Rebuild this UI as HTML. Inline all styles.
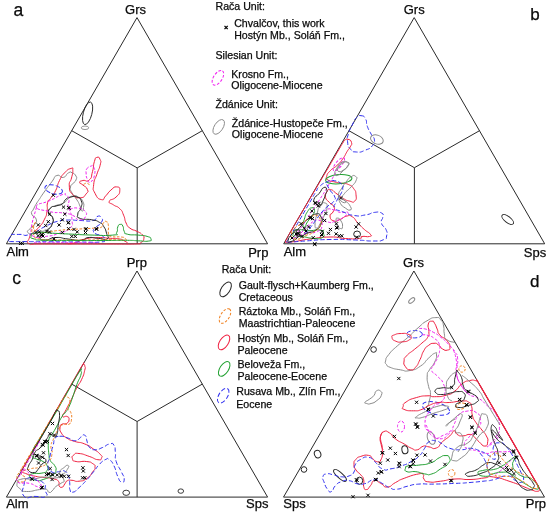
<!DOCTYPE html>
<html><head><meta charset="utf-8"><title>Ternary diagrams</title>
<style>
html,body{margin:0;padding:0;background:#fff;}
svg{display:block;}
text{font-family:"Liberation Sans",sans-serif;fill:#0a0a0a;stroke:#0a0a0a;stroke-width:0.25px;}
</style></head><body>
<svg width="550" height="514" viewBox="0 0 550 514">
<rect width="550" height="514" fill="#fff"/>
<polygon points="6.4,243.8 137.0,17.6 267.6,243.8" fill="none" stroke="#2a2a2a" stroke-width="1" stroke-linejoin="miter"/><path d="M71.7,130.7 L137.2,167.9 L202.3,130.7 M137.2,167.9 L137.2,243.8" fill="none" stroke="#2a2a2a" stroke-width="1"/>
<polygon points="283.7,243.8 414.2,17.6 544.7,243.8" fill="none" stroke="#2a2a2a" stroke-width="1" stroke-linejoin="miter"/><path d="M348.9,130.7 L414.4,167.7 L479.5,130.7 M414.4,167.7 L414.4,243.8" fill="none" stroke="#2a2a2a" stroke-width="1"/>
<polygon points="6.4,497.1 137.0,271.0 267.6,497.1" fill="none" stroke="#2a2a2a" stroke-width="1" stroke-linejoin="miter"/><path d="M71.7,384.1 L137.1,421.5 L202.3,384.1 M137.1,421.5 L137.1,497.1" fill="none" stroke="#2a2a2a" stroke-width="1"/>
<polygon points="283.5,497.1 413.9,271.0 544.5,497.1" fill="none" stroke="#2a2a2a" stroke-width="1" stroke-linejoin="miter"/>
<ellipse cx="217.9" cy="77.8" rx="8.3" ry="4.3" transform="rotate(-57 217.9 77.8)" fill="none" stroke="#f020f0" stroke-width="1.0" stroke-dasharray="2.8 1.7"/>
<ellipse cx="218.7" cy="126.9" rx="8.3" ry="4.3" transform="rotate(-57 218.7 126.9)" fill="none" stroke="#8a8a8a" stroke-width="0.9"/>
<path d="M224.5,25.9l3.2,3.2M224.5,29.1l3.2,-3.2" stroke="#000" stroke-width="1.3" fill="none"/>
<ellipse cx="225.6" cy="289.4" rx="8.3" ry="4.3" transform="rotate(-57 225.6 289.4)" fill="none" stroke="#262626" stroke-width="1.0"/>
<ellipse cx="225" cy="316" rx="8.3" ry="4.3" transform="rotate(-57 225 316)" fill="none" stroke="#f08020" stroke-width="1.0" stroke-dasharray="2.6 1.6"/>
<ellipse cx="224" cy="342.4" rx="8.3" ry="4.3" transform="rotate(-57 224 342.4)" fill="none" stroke="#f02040" stroke-width="1.0"/>
<ellipse cx="224.2" cy="368.9" rx="8.3" ry="4.3" transform="rotate(-57 224.2 368.9)" fill="none" stroke="#20a030" stroke-width="1.0"/>
<ellipse cx="223.2" cy="395.7" rx="8.3" ry="4.3" transform="rotate(-57 223.2 395.7)" fill="none" stroke="#3030f0" stroke-width="1.0" stroke-dasharray="4.4 2.2"/>
<ellipse cx="87.6" cy="113.3" rx="4.3" ry="11.6" transform="rotate(14.6 87.6 113.3)" fill="none" stroke="#262626" stroke-width="0.9"/>
<ellipse cx="85.0" cy="127.8" rx="3.7" ry="1.75" transform="rotate(0 85.0 127.8)" fill="none" stroke="#8a8a8a" stroke-width="0.9"/>
<path d="M68.4,172.9 C65.4,174.4 67.1,176.5 63.3,177.4 C59.5,178.3 60.7,174.0 56.9,175.5 C53.1,177.0 56.0,176.3 51.8,181.8 C47.6,187.3 48.4,186.1 44.2,192.0 C40.0,197.9 41.6,195.9 39.1,199.6 C36.6,203.3 38.6,199.9 36.8,203.0 C35.0,206.1 35.3,205.3 33.6,209.0 C31.9,212.7 30.8,210.7 31.7,214.1 C32.6,217.5 35.3,215.6 36.2,219.2 C37.1,222.8 36.6,221.5 34.3,224.9 C32.0,228.3 31.3,226.9 29.2,229.4 C27.1,231.9 26.8,231.0 27.9,232.5 C29.0,234.0 28.4,234.0 32.4,233.8 C36.4,233.6 34.8,233.6 40.0,232.0 C45.2,230.4 44.0,231.7 48.0,229.0 C52.0,226.3 50.3,227.7 52.0,224.0 C53.7,220.3 54.0,221.7 53.0,218.0 C52.0,214.3 49.7,216.3 49.0,213.0 C48.3,209.7 48.7,210.5 51.0,208.0 C53.3,205.5 51.8,207.2 56.0,205.5 C60.2,203.8 59.5,205.2 63.5,203.0 C67.5,200.8 64.8,201.3 68.0,199.0 C71.2,196.7 69.3,196.5 73.0,196.0 C76.7,195.5 75.7,195.5 79.0,197.5 C82.3,199.5 81.5,198.7 83.0,202.0 C84.5,205.3 83.8,204.5 83.5,207.5 C83.2,210.5 83.2,211.5 82.0,211.0 C80.8,210.5 81.7,209.7 80.0,206.0 C78.3,202.3 79.7,204.3 77.0,200.0 C74.3,195.7 74.2,197.3 72.0,193.0 C69.8,188.7 70.0,190.3 70.5,187.0 C71.0,183.7 71.7,185.5 73.5,183.1 C75.3,180.7 75.2,182.2 76.0,179.9 C76.8,177.6 77.3,178.4 76.0,176.1 C74.7,173.8 74.7,174.0 72.2,172.9 C69.7,171.8 71.4,171.4 68.4,172.9Z" fill="none" stroke="#8a8a8a" stroke-width="1.0"/>
<path d="M29.0,243.6 C25.4,241.7 28.1,241.8 29.2,238.3 C30.3,234.8 29.0,237.0 32.4,233.2 C35.8,229.4 35.4,231.5 39.4,226.8 C43.4,222.1 42.0,224.3 44.5,219.2 C47.0,214.1 46.0,217.0 47.0,211.5 C48.0,206.0 46.4,207.0 47.6,202.6 C48.8,198.2 47.8,202.4 50.5,198.4 C53.2,194.4 52.6,196.7 55.6,190.7 C58.6,184.7 56.5,186.4 59.5,180.5 C62.5,174.6 60.7,176.9 64.5,172.9 C68.3,168.9 68.1,169.3 70.9,168.5 C73.7,167.7 72.6,167.2 72.8,170.4 C73.0,173.6 72.7,172.8 71.5,178.0 C70.3,183.2 68.9,180.5 69.3,186.0 C69.7,191.5 69.0,190.6 72.7,194.5 C76.4,198.4 75.9,197.9 80.4,197.7 C84.9,197.5 83.8,196.6 86.1,193.9 C88.4,191.2 88.5,192.5 87.4,189.5 C86.3,186.5 85.5,187.3 82.9,185.0 C80.3,182.7 79.7,184.0 79.7,182.5 C79.7,181.0 79.7,181.4 82.9,180.5 C86.1,179.6 86.1,182.9 89.3,179.9 C92.5,176.9 90.8,177.7 92.5,171.6 C94.2,165.5 92.9,166.2 94.4,161.5 C95.9,156.8 95.0,158.1 96.9,157.4 C98.8,156.7 99.0,156.9 100.1,159.5 C101.2,162.1 101.2,160.4 100.1,165.3 C99.0,170.2 99.0,167.8 96.9,174.2 C94.8,180.6 94.3,178.0 93.7,184.4 C93.1,190.8 92.4,188.2 95.0,193.3 C97.6,198.4 97.8,198.8 101.4,199.6 C105.0,200.4 102.6,199.0 105.8,195.8 C109.0,192.6 107.3,193.1 110.9,190.1 C114.5,187.1 113.6,186.7 116.6,186.9 C119.6,187.1 120.0,187.3 119.8,190.7 C119.6,194.1 119.5,193.6 116.0,197.1 C112.5,200.6 110.1,198.7 109.3,201.3 C108.5,203.9 110.0,202.4 113.5,204.9 C117.0,207.4 116.4,205.3 119.8,208.7 C123.2,212.1 121.5,210.4 123.6,215.2 C125.7,220.0 124.0,218.7 126.1,223.0 C128.2,227.3 126.3,225.3 129.9,228.1 C133.5,230.9 132.9,229.2 136.9,231.3 C140.9,233.4 139.7,232.2 142.0,234.5 C144.3,236.8 144.3,235.6 143.9,238.3 C143.5,241.0 143.9,240.8 140.7,242.7 C137.5,244.6 144.6,243.6 134.4,244.0 C124.2,244.4 131.5,244.0 110.0,244.0 C88.5,244.0 93.3,244.0 70.0,244.0 C46.7,244.0 53.7,244.1 40.0,244.0 C26.3,243.9 32.6,245.5 29.0,243.6Z" fill="none" stroke="#f02040" stroke-width="1.0"/>
<path d="M128.0,243.4 C126.7,242.5 127.2,242.3 124.2,240.8 C121.2,239.3 123.8,239.7 119.1,238.9 C114.4,238.1 117.2,238.7 110.2,238.3 C103.2,237.9 106.4,237.4 98.2,237.6 C90.0,237.8 93.1,237.2 85.5,238.9 C77.9,240.6 81.1,241.1 75.3,242.7 C69.5,244.3 70.4,243.4 68.0,243.8" fill="none" stroke="#f02040" stroke-width="1.0"/>
<path d="M86.7,169.1 C88.2,166.9 88.2,166.9 90.5,166.3 C92.8,165.7 92.4,164.1 93.7,167.2 C95.0,170.3 95.5,170.6 94.4,175.5 C93.3,180.4 92.8,180.5 90.5,181.8 C88.2,183.1 88.9,182.3 87.4,179.3 C85.9,176.3 86.3,176.3 86.1,172.9 C85.9,169.5 85.2,171.3 86.7,169.1Z" fill="none" stroke="#f020f0" stroke-width="1.0" stroke-dasharray="2.8 1.7"/>
<path d="M83.5,184.4 C84.8,184.0 85.3,182.7 87.4,183.3 C89.5,183.9 89.1,185.3 89.9,186.3" fill="none" stroke="#f08020" stroke-width="1.0" stroke-dasharray="2.6 1.6"/>
<ellipse cx="53.7" cy="189.5" rx="9" ry="4.3" transform="rotate(15 53.7 189.5)" fill="none" stroke="#3030f0" stroke-width="1.0" stroke-dasharray="4.4 2.2"/>
<path d="M11.4,234.7 C12.3,233.7 9.7,234.5 12.6,234.4 C15.5,234.3 14.0,234.5 20.0,234.4 C26.0,234.3 21.9,236.9 30.5,234.2 C39.1,231.5 36.4,230.6 45.7,226.2 C55.0,221.8 50.9,223.2 58.5,221.1 C66.1,219.0 61.4,220.2 68.6,220.0 C75.8,219.8 71.9,220.3 80.0,220.5 C88.1,220.7 87.3,221.8 93.0,220.5 C98.7,219.2 94.3,217.6 97.0,216.6 C99.7,215.6 99.5,215.5 101.0,217.4 C102.5,219.3 103.4,218.9 101.4,222.4 C99.4,225.9 97.6,225.0 95.0,228.0 C92.4,231.0 93.2,229.5 93.5,231.5 C93.8,233.5 93.0,232.5 96.0,234.0 C99.0,235.5 99.8,234.0 102.5,236.0 C105.2,238.0 104.8,238.0 104.0,240.0 C103.2,242.0 108.0,241.3 100.0,242.0 C92.0,242.7 96.7,242.1 80.0,242.0 C63.3,241.9 68.3,241.9 50.0,241.8 C31.7,241.7 37.7,241.7 25.0,241.6 C12.3,241.5 17.3,241.7 12.0,241.6 C6.7,241.5 10.4,241.8 9.2,241.3 C8.0,240.8 8.3,241.3 8.5,240.0 C8.7,238.7 8.8,239.3 9.8,237.5 C10.8,235.7 10.5,235.7 11.4,234.7Z" fill="none" stroke="#3030f0" stroke-width="1.0" stroke-dasharray="4.4 2.2"/>
<path d="M50.8,207.7 C48.3,210.0 48.0,209.7 48.6,213.0 C49.2,216.3 51.3,213.8 52.5,217.6 C53.7,221.4 53.5,220.4 52.1,224.3 C50.7,228.2 51.3,226.2 48.3,229.4 C45.3,232.6 45.8,231.1 43.0,234.0 C40.2,236.9 39.1,236.0 40.0,238.0 C40.9,240.0 40.4,240.2 45.7,240.0 C51.0,239.8 48.5,237.8 55.9,237.5 C63.3,237.2 59.4,238.1 68.0,239.0 C76.6,239.9 74.9,240.7 81.6,240.2 C88.3,239.7 82.5,238.2 88.0,237.6 C93.5,237.0 91.8,237.9 98.2,238.3 C104.6,238.7 104.3,240.6 107.1,238.9 C109.9,237.2 107.6,237.2 106.5,233.2 C105.4,229.2 106.2,230.4 103.9,226.8 C101.6,223.2 103.5,224.7 99.5,222.4 C95.5,220.1 98.2,221.1 91.8,219.8 C85.4,218.5 85.1,220.4 80.4,218.5 C75.7,216.6 77.6,217.7 77.8,214.1 C78.0,210.5 79.8,212.1 81.0,207.7 C82.2,203.3 82.6,204.6 81.3,201.0 C80.0,197.4 80.4,198.3 77.0,197.0 C73.6,195.7 74.7,196.2 71.0,197.0 C67.3,197.8 68.7,197.0 65.8,199.3 C62.9,201.6 65.6,201.7 62.3,203.9 C59.0,206.1 59.8,204.7 56.0,206.0 C52.2,207.3 53.3,205.4 50.8,207.7Z" fill="none" stroke="#262626" stroke-width="1.0"/>
<path d="M62.6,194.5 C57.3,196.2 58.7,196.5 50.0,200.5 C41.3,204.5 36.7,202.8 36.5,206.5 C36.3,210.2 40.7,209.3 49.5,211.5 C58.3,213.7 55.3,211.7 63.0,213.0 C70.7,214.3 67.3,213.1 72.7,215.4 C78.1,217.7 74.8,219.4 79.1,219.8 C83.4,220.2 83.8,219.8 85.5,216.6 C87.2,213.4 87.0,213.2 84.2,210.3 C81.4,207.4 82.1,208.9 77.0,208.0 C71.9,207.1 71.7,210.5 69.0,207.5 C66.3,204.5 69.9,203.0 68.9,199.0 C67.9,195.0 68.1,197.0 66.0,195.5 C63.9,194.0 67.9,192.8 62.6,194.5Z" fill="none" stroke="#f020f0" stroke-width="1.0" stroke-dasharray="2.8 1.7"/>
<path d="M36.5,207.0 C34.7,214.5 32.3,219.7 31.1,229.4 C29.9,239.1 28.4,233.6 33.0,236.0 C37.6,238.4 36.0,237.5 45.0,236.5 C54.0,235.5 51.7,235.8 60.0,233.0 C68.3,230.2 66.0,232.3 70.0,228.0 C74.0,223.7 72.3,226.7 72.0,220.0 C71.7,213.3 70.0,212.0 69.0,208.0" fill="none" stroke="#f020f0" stroke-width="1.0" stroke-dasharray="2.8 1.7"/>
<path d="M34.0,242.6 C39.3,242.5 36.3,242.4 50.0,242.4 C63.7,242.4 59.0,242.5 75.0,242.6 C91.0,242.7 90.3,242.7 98.0,242.8" fill="none" stroke="#f020f0" stroke-width="0.8" stroke-dasharray="2.8 1.7"/>
<path d="M35.5,222.4 C36.0,221.7 33.4,223.9 33.6,226.8 C33.8,229.7 32.2,229.1 36.0,231.0 C39.8,232.9 37.7,232.7 45.0,232.5 C52.3,232.3 48.8,231.5 58.0,230.5 C67.2,229.5 61.4,230.1 72.7,229.4 C84.0,228.7 82.5,228.9 91.8,228.3 C101.1,227.7 96.9,229.3 100.7,227.5 C104.5,225.7 101.4,224.9 103.3,223.0 C105.2,221.1 104.8,220.9 106.5,221.7 C108.2,222.5 107.8,221.7 108.4,225.5 C109.0,229.3 107.6,229.6 108.4,233.2 C109.2,236.8 106.7,235.1 110.9,236.4 C115.1,237.7 116.4,236.4 121.1,237.0 C125.8,237.6 124.1,237.2 124.9,238.3 C125.7,239.4 128.3,239.7 123.6,240.2 C118.9,240.7 122.1,239.8 110.9,239.7 C99.7,239.6 107.0,239.9 90.0,240.0 C73.0,240.1 76.7,240.3 60.0,240.0 C43.3,239.7 48.7,240.7 40.0,239.0 C31.3,237.3 36.7,238.3 34.0,235.0 C31.3,231.7 31.5,233.2 32.0,229.0 C32.5,224.8 35.0,223.1 35.5,222.4Z" fill="none" stroke="#f08020" stroke-width="1.0" stroke-dasharray="2.6 1.6"/>
<path d="M31.1,236.4 C31.9,234.3 28.5,233.7 36.8,232.7 C45.1,231.7 45.3,233.0 55.9,233.4 C66.5,233.8 57.2,233.5 68.6,234.0 C80.0,234.5 75.3,234.6 90.0,235.0 C104.7,235.4 103.8,235.9 112.7,235.1 C121.6,234.3 115.0,235.3 116.7,232.5 C118.4,229.7 116.6,229.5 117.8,226.8 C119.0,224.1 118.7,224.6 120.4,224.4 C122.1,224.2 121.6,223.9 122.9,226.2 C124.2,228.5 122.7,228.6 124.2,231.3 C125.7,234.0 122.7,232.9 127.4,234.2 C132.1,235.5 131.6,234.4 138.2,235.1 C144.8,235.8 142.9,235.1 147.1,236.4 C151.3,237.7 150.5,237.3 150.9,238.9 C151.3,240.5 152.6,240.5 148.4,241.1 C144.2,241.7 145.8,241.1 138.2,240.8 C130.6,240.5 138.2,240.4 125.5,240.3 C112.8,240.2 118.5,240.5 100.0,240.5 C81.5,240.5 88.9,240.5 70.0,240.4 C51.1,240.3 55.1,240.7 43.2,240.2 C31.3,239.7 38.3,240.3 34.3,239.0 C30.3,237.7 30.3,238.5 31.1,236.4Z" fill="none" stroke="#20a030" stroke-width="1.0"/>
<path d="M18.9,241.8l3.2,3.2M18.9,245.0l3.2,-3.2M20.7,241.8l3.2,3.2M20.7,245.0l3.2,-3.2M36.7,223.3l3.2,3.2M36.7,226.5l3.2,-3.2M46.7,220.1l3.2,3.2M46.7,223.3l3.2,-3.2M44.1,223.9l3.2,3.2M44.1,227.1l3.2,-3.2M37.8,230.3l3.2,3.2M37.8,233.5l3.2,-3.2M40.3,233.5l3.2,3.2M40.3,236.7l3.2,-3.2M39.7,232.9l3.2,3.2M39.7,236.1l3.2,-3.2M36.5,234.1l3.2,3.2M36.5,237.3l3.2,-3.2M47.9,212.5l3.2,3.2M47.9,215.7l3.2,-3.2M61.9,205.5l3.2,3.2M61.9,208.7l3.2,-3.2M67.0,206.1l3.2,3.2M67.0,209.3l3.2,-3.2M67.6,206.5l3.2,3.2M67.6,209.7l3.2,-3.2M63.2,212.5l3.2,3.2M63.2,215.7l3.2,-3.2M60.7,218.2l3.2,3.2M60.7,221.4l3.2,-3.2M57.5,223.3l3.2,3.2M57.5,226.5l3.2,-3.2M67.0,220.8l3.2,3.2M67.0,224.0l3.2,-3.2M66.6,221.3l3.2,3.2M66.6,224.5l3.2,-3.2M67.0,227.1l3.2,3.2M67.0,230.3l3.2,-3.2M60.7,230.9l3.2,3.2M60.7,234.1l3.2,-3.2M52.4,237.3l3.2,3.2M52.4,240.5l3.2,-3.2M70.2,234.8l3.2,3.2M70.2,238.0l3.2,-3.2M45.4,229.7l3.2,3.2M45.4,232.9l3.2,-3.2M47.9,230.4l3.2,3.2M47.9,233.6l3.2,-3.2M51.7,193.6l3.2,3.2M51.7,196.8l3.2,-3.2M72.4,227.8l3.2,3.2M72.4,231.0l3.2,-3.2M75.6,230.3l3.2,3.2M75.6,233.5l3.2,-3.2M84.5,227.1l3.2,3.2M84.5,230.3l3.2,-3.2M84.2,227.7l3.2,3.2M84.2,230.9l3.2,-3.2M83.9,230.9l3.2,3.2M83.9,234.1l3.2,-3.2M94.7,227.1l3.2,3.2M94.7,230.3l3.2,-3.2M95.0,227.6l3.2,3.2M95.0,230.8l3.2,-3.2M73.7,234.8l3.2,3.2M73.7,238.0l3.2,-3.2M34.4,230.9l3.2,3.2M34.4,234.1l3.2,-3.2M41.4,234.4l3.2,3.2M41.4,237.6l3.2,-3.2" fill="none" stroke="#000" stroke-width="1.0"/>
<ellipse cx="507.7" cy="219.5" rx="7" ry="3" transform="rotate(38 507.7 219.5)" fill="none" stroke="#262626" stroke-width="1.0"/>
<path d="M361.0,115.7 C364.0,116.1 363.4,115.3 365.5,118.9 C367.6,122.5 365.5,121.4 367.4,126.5 C369.3,131.6 368.9,129.7 371.2,134.2 C373.5,138.7 374.0,136.1 374.4,139.9 C374.8,143.7 375.5,142.2 372.5,145.6 C369.5,149.0 370.8,148.0 365.5,150.1 C360.2,152.2 361.6,152.4 356.5,152.0 C351.4,151.6 353.2,152.2 350.2,148.8 C347.2,145.4 348.2,146.7 347.6,141.8 C347.0,136.9 346.6,140.1 348.3,134.2 C350.0,128.3 350.0,129.5 352.7,124.0 C355.4,118.5 353.7,120.4 356.5,117.6 C359.3,114.8 358.0,115.3 361.0,115.7Z" fill="none" stroke="#3030f0" stroke-width="1.0" stroke-dasharray="4.4 2.2"/>
<ellipse cx="376.9" cy="139.5" rx="6.6" ry="4.4" transform="rotate(20 376.9 139.5)" fill="none" stroke="#8a8a8a" stroke-width="1.0"/>
<path d="M344.3,140.6 C346.1,139.4 345.6,138.7 348.0,139.3 C350.4,139.9 350.8,140.0 351.5,142.5 C352.2,145.0 351.7,143.9 350.2,146.9 C348.7,149.9 349.6,147.4 347.1,151.5 C344.6,155.6 346.0,154.4 342.6,159.1 C339.2,163.8 340.9,161.7 336.9,165.5 C332.9,169.3 333.9,166.9 330.5,170.5 C327.1,174.1 327.5,173.1 326.7,176.3 C325.9,179.5 325.2,178.1 328.0,180.0 C330.8,181.9 330.3,180.9 335.0,182.0 C339.7,183.1 337.5,182.5 342.0,183.3 C346.5,184.1 344.6,182.8 348.4,184.5 C352.2,186.2 351.0,185.0 353.5,188.4 C356.0,191.8 355.6,190.5 356.0,194.7 C356.4,198.9 356.8,199.0 354.7,201.1 C352.6,203.2 353.4,202.0 349.6,201.1 C345.8,200.2 347.5,200.9 343.3,198.5 C339.1,196.1 341.3,197.0 337.0,194.0 C332.7,191.0 333.9,190.2 330.5,189.6 C327.1,189.0 328.4,189.6 326.7,192.2 C325.0,194.8 324.6,193.9 325.5,197.3 C326.4,200.7 326.5,199.2 329.3,202.4 C332.1,205.6 332.8,203.8 334.0,207.0 C335.2,210.2 334.3,209.0 333.0,212.0 C331.7,215.0 329.7,213.0 330.0,216.0 C330.3,219.0 330.6,219.9 334.0,221.0 C337.4,222.1 336.0,221.0 340.2,219.4 C344.4,217.8 342.5,217.1 346.5,216.2 C350.5,215.3 348.5,214.5 352.3,216.8 C356.1,219.1 354.0,219.0 358.0,223.2 C362.0,227.4 360.4,225.9 364.4,229.5 C368.4,233.1 368.4,231.7 370.1,234.0 C371.8,236.3 372.3,235.7 369.5,236.5 C366.7,237.3 365.2,235.8 361.8,236.5 C358.4,237.2 364.8,237.8 359.3,238.5 C353.8,239.2 355.1,239.0 345.3,238.5 C335.5,238.0 341.8,236.8 330.0,237.0 C318.2,237.2 321.7,237.5 310.0,239.0 C298.3,240.5 302.7,240.4 295.0,241.5 C287.3,242.6 290.1,242.3 287.0,242.3 C283.9,242.3 285.7,242.6 285.6,241.5 C285.5,240.4 284.7,242.8 286.7,239.0 C288.6,235.2 286.0,239.7 291.5,230.0 C297.0,220.3 295.3,223.3 303.2,210.0 C311.1,196.7 307.1,203.3 315.0,190.0 C322.9,176.7 319.0,183.3 326.9,170.0 C334.7,156.7 333.3,159.0 338.6,150.0 C343.9,141.0 340.8,146.1 342.8,143.0 C344.7,139.9 342.6,141.8 344.3,140.6Z" fill="none" stroke="#f02040" stroke-width="1.0"/>
<ellipse cx="338.8" cy="179.2" rx="13.2" ry="4.6" transform="rotate(-5 338.8 179.2)" fill="none" stroke="#20a030" stroke-width="1.0"/>
<path d="M311.9,207.8 C314.2,207.4 314.3,207.8 314.5,210.4 C314.7,213.0 314.8,211.7 312.5,215.5 C310.2,219.3 310.0,218.0 307.5,221.8 C305.0,225.6 306.4,225.6 304.9,226.9 C303.4,228.2 303.2,228.1 303.0,225.6 C302.8,223.1 302.8,224.0 304.3,219.3 C305.8,214.6 305.0,215.4 307.5,211.6 C310.0,207.8 309.6,208.2 311.9,207.8Z" fill="none" stroke="#20a030" stroke-width="1.0"/>
<path d="M293.5,233.3 C294.4,230.8 292.6,230.4 297.3,229.5 C302.0,228.6 299.9,230.5 307.5,230.7 C315.1,230.9 314.9,229.2 320.2,230.1 C325.5,231.0 322.8,230.8 323.4,233.3 C324.0,235.8 325.3,236.0 322.1,237.7 C318.9,239.4 320.8,238.8 313.8,238.4 C306.8,238.0 307.5,236.9 301.1,236.5 C294.7,236.1 297.2,238.2 294.7,237.1 C292.2,236.0 292.6,235.8 293.5,233.3Z" fill="none" stroke="#20a030" stroke-width="1.0"/>
<ellipse cx="338.8" cy="164.2" rx="8.2" ry="3" transform="rotate(-50 338.8 164.2)" fill="none" stroke="#f020f0" stroke-width="1.0" stroke-dasharray="2.8 1.7"/>
<path d="M342.5,160.9 C340.3,164.6 340.8,163.6 336.0,172.0 C331.2,180.4 333.3,177.0 328.0,186.0 C322.7,195.0 325.3,190.7 320.0,199.0 C314.7,207.3 317.0,203.3 312.0,211.0 C307.0,218.7 309.7,215.0 305.0,222.0 C300.3,229.0 302.3,226.0 298.0,232.0 C293.7,238.0 294.0,237.3 292.0,240.0" fill="none" stroke="#f020f0" stroke-width="1.0" stroke-dasharray="2.8 1.7"/>
<path d="M333.8,209.8 C338.5,210.6 335.5,211.5 340.2,212.4 C344.9,213.3 346.5,210.9 347.8,212.4 C349.1,213.9 347.8,214.1 344.0,216.8 C340.2,219.5 341.7,218.9 336.4,220.6 C331.1,222.3 332.8,223.5 328.0,222.0 C323.2,220.5 322.7,220.0 322.0,216.0 C321.3,212.0 322.1,212.1 326.0,210.0 C329.9,207.9 329.1,209.0 333.8,209.8Z" fill="none" stroke="#f020f0" stroke-width="1.0" stroke-dasharray="2.8 1.7"/>
<path d="M296.0,238.0 C297.3,238.3 299.3,235.0 306.0,233.0 C312.7,231.0 310.7,234.3 316.0,232.0 C321.3,229.7 321.3,230.0 322.0,226.0 C322.7,222.0 322.0,220.7 318.0,220.0 C314.0,219.3 315.3,220.0 310.0,224.0 C304.7,228.0 306.7,227.3 302.0,232.0 C297.3,236.7 294.7,237.7 296.0,238.0Z" fill="none" stroke="#f020f0" stroke-width="1.0" stroke-dasharray="2.8 1.7"/>
<path d="M347.6,162.2 C349.7,162.8 349.6,162.9 348.3,165.4 C347.0,167.9 346.9,167.8 343.8,169.8 C340.7,171.8 340.9,172.1 339.0,171.5 C337.1,170.9 337.0,170.7 338.0,168.0 C339.0,165.3 338.8,165.4 342.0,163.5 C345.2,161.6 345.5,161.6 347.6,162.2Z" fill="none" stroke="#8a8a8a" stroke-width="1.0"/>
<path d="M342.0,162.3 C345.6,160.6 346.0,161.4 347.7,162.9 C349.4,164.4 349.0,163.7 347.1,166.7 C345.2,169.7 344.9,169.0 342.0,171.8 C339.1,174.6 340.8,174.3 338.5,175.0 C336.2,175.7 335.5,176.3 335.0,174.0 C334.5,171.7 334.7,171.9 337.0,168.0 C339.3,164.1 338.4,164.0 342.0,162.3Z" fill="none" stroke="#8a8a8a" stroke-width="1.0"/>
<path d="M350.9,176.9 C354.0,175.0 353.7,175.0 355.4,176.3 C357.1,177.6 357.5,177.1 356.0,180.7 C354.5,184.3 354.7,182.8 350.9,187.1 C347.1,191.4 347.3,189.9 344.5,193.5 C341.7,197.1 342.0,195.2 342.5,198.0 C343.0,200.8 346.5,201.0 346.0,202.0 C345.5,203.0 343.5,203.3 341.0,201.0 C338.5,198.7 338.2,199.3 338.5,195.0 C338.8,190.7 339.5,192.3 342.0,188.0 C344.5,183.7 343.0,185.7 346.0,182.0 C349.0,178.3 347.8,178.8 350.9,176.9Z" fill="none" stroke="#8a8a8a" stroke-width="1.0"/>
<path d="M340.2,199.0 C341.8,198.2 341.9,198.5 345.3,201.0 C348.7,203.5 348.8,203.5 350.4,206.5 C352.0,209.5 351.7,209.5 350.0,210.0 C348.3,210.5 348.5,210.2 345.3,208.0 C342.1,205.8 342.2,206.5 340.5,203.5 C338.8,200.5 338.6,199.8 340.2,199.0Z" fill="none" stroke="#8a8a8a" stroke-width="1.0"/>
<path d="M337.6,218.1 C339.3,218.3 339.4,218.2 341.0,221.0 C342.6,223.8 342.7,224.0 342.5,226.5 C342.3,229.0 342.3,229.0 340.5,228.5 C338.7,228.0 338.5,227.7 337.0,225.0 C335.5,222.3 335.8,222.8 336.0,220.5 C336.2,218.2 335.9,217.9 337.6,218.1Z" fill="none" stroke="#8a8a8a" stroke-width="1.0"/>
<path d="M320.0,206.0 C322.7,202.3 322.7,202.3 325.0,203.0 C327.3,203.7 327.3,203.7 327.0,208.0 C326.7,212.3 326.3,210.7 324.0,216.0 C321.7,221.3 322.3,220.0 320.0,224.0 C317.7,228.0 318.7,228.0 317.0,228.0 C315.3,228.0 315.0,228.7 315.0,224.0 C315.0,219.3 315.3,220.0 317.0,214.0 C318.7,208.0 317.3,209.7 320.0,206.0Z" fill="none" stroke="#8a8a8a" stroke-width="1.0"/>
<path d="M286.9,242.0 C286.0,240.7 286.0,243.7 289.2,238.0 C292.5,232.3 290.4,236.0 296.7,225.0 C303.1,214.0 301.9,216.0 308.3,205.0 C314.6,194.0 312.2,198.0 315.8,192.0 C319.4,186.0 315.4,190.3 319.1,187.0 C322.7,183.7 321.6,184.1 326.7,182.0 C331.8,179.9 329.3,179.9 334.4,180.7 C339.5,181.5 339.2,182.1 342.0,184.5 C344.8,186.9 342.9,185.3 342.7,188.0 C342.5,190.7 343.6,188.1 341.5,192.6 C339.4,197.1 338.5,196.4 336.4,201.5 C334.3,206.6 333.0,204.5 335.1,207.9 C337.2,211.3 336.3,209.2 342.7,211.7 C349.1,214.2 346.6,214.4 354.2,215.5 C361.8,216.6 358.8,215.9 365.6,214.9 C372.4,213.9 369.2,213.0 374.5,212.4 C379.8,211.8 378.7,211.5 381.5,213.0 C384.3,214.5 382.8,213.4 382.8,216.8 C382.8,220.2 380.4,219.0 381.5,223.2 C382.6,227.4 384.3,225.3 386.0,229.5 C387.7,233.7 387.4,232.5 386.6,235.9 C385.8,239.3 387.9,238.0 383.5,239.7 C379.1,241.4 382.6,240.9 373.3,241.0 C364.0,241.1 369.9,240.5 355.5,240.0 C341.1,239.5 346.8,239.2 330.0,239.5 C313.2,239.8 317.7,240.2 305.0,241.0 C292.3,241.8 298.0,241.7 292.0,242.0 C286.0,242.3 287.9,243.3 286.9,242.0Z" fill="none" stroke="#3030f0" stroke-width="1.0" stroke-dasharray="4.4 2.2"/>
<path d="M326.7,184.5 C328.0,186.6 327.9,187.1 330.5,190.9 C333.1,194.7 333.2,192.6 334.4,196.0 C335.6,199.4 336.1,197.7 334.0,201.0 C331.9,204.3 332.0,202.3 328.0,206.0 C324.0,209.7 326.0,207.3 322.0,212.0 C318.0,216.7 320.0,214.7 316.0,220.0 C312.0,225.3 314.0,223.0 310.0,228.0 C306.0,233.0 306.0,232.7 304.0,235.0" fill="none" stroke="#3030f0" stroke-width="1.0" stroke-dasharray="4.4 2.2"/>
<path d="M323.5,187.7 C326.0,186.4 326.0,187.3 326.7,189.6 C327.4,191.9 326.8,190.9 325.5,194.7 C324.2,198.5 324.7,197.3 322.9,201.1 C321.1,204.9 322.3,205.0 320.0,206.0 C317.7,207.0 318.0,206.3 316.0,204.0 C314.0,201.7 313.0,202.7 314.0,199.2 C315.0,195.7 315.9,197.3 319.1,193.5 C322.3,189.7 321.0,189.0 323.5,187.7Z" fill="none" stroke="#262626" stroke-width="1.0"/>
<path d="M316.0,214.0 C320.3,213.3 319.3,213.7 321.0,217.0 C322.7,220.3 322.7,219.7 321.0,224.0 C319.3,228.3 320.3,227.0 316.0,230.0 C311.7,233.0 313.3,231.0 308.0,233.0 C302.7,235.0 304.0,236.0 300.0,236.0 C296.0,236.0 295.7,236.3 296.0,233.0 C296.3,229.7 297.0,230.7 301.0,226.0 C305.0,221.3 303.0,223.0 308.0,219.0 C313.0,215.0 311.7,214.7 316.0,214.0Z" fill="none" stroke="#262626" stroke-width="1.0"/>
<ellipse cx="357.1" cy="234.2" rx="3.4" ry="3.2" transform="rotate(0 357.1 234.2)" fill="none" stroke="#262626" stroke-width="1.0"/>
<path d="M288.0,240.5 C288.3,238.0 289.0,237.5 292.0,234.0 C295.0,230.5 294.3,230.3 297.0,230.0 C299.7,229.7 300.0,230.3 300.0,233.0 C300.0,235.7 300.0,235.2 297.0,238.0 C294.0,240.8 294.0,240.7 291.0,241.5 C288.0,242.3 287.7,243.0 288.0,240.5Z" fill="none" stroke="#262626" stroke-width="1.0"/>
<path d="M294.7,228.2 C298.3,224.6 297.3,226.7 302.4,223.1 C307.5,219.5 305.3,219.9 310.0,217.4 C314.7,214.9 313.0,214.9 316.4,215.5 C319.8,216.1 318.9,215.9 320.2,219.3 C321.5,222.7 322.3,221.4 320.2,225.6 C318.1,229.8 318.5,228.7 313.8,232.0 C309.1,235.3 310.2,233.4 306.0,235.5 C301.8,237.6 305.1,237.4 301.1,238.4 C297.1,239.4 297.2,240.0 294.0,238.5 C290.8,237.0 291.3,237.4 291.5,234.0 C291.7,230.6 291.1,231.8 294.7,228.2Z" fill="none" stroke="#f08020" stroke-width="1.0" stroke-dasharray="2.6 1.6"/>
<path d="M313.5,201.1l3.2,3.2M313.5,204.3l3.2,-3.2M314.0,201.6l3.2,3.2M314.0,204.8l3.2,-3.2M317.3,201.8l3.2,3.2M317.3,205.0l3.2,-3.2M316.7,204.3l3.2,3.2M316.7,207.5l3.2,-3.2M339.0,196.4l3.2,3.2M339.0,199.6l3.2,-3.2M324.3,211.9l3.2,3.2M324.3,215.1l3.2,-3.2M310.3,209.4l3.2,3.2M310.3,212.6l3.2,-3.2M308.4,215.8l3.2,3.2M308.4,219.0l3.2,-3.2M308.9,216.3l3.2,3.2M308.9,219.5l3.2,-3.2M310.9,217.0l3.2,3.2M310.9,220.2l3.2,-3.2M323.0,218.9l3.2,3.2M323.0,222.1l3.2,-3.2M299.5,222.1l3.2,3.2M299.5,225.3l3.2,-3.2M307.1,225.3l3.2,3.2M307.1,228.5l3.2,-3.2M302.7,226.6l3.2,3.2M302.7,229.8l3.2,-3.2M296.3,231.7l3.2,3.2M296.3,234.9l3.2,-3.2M296.8,232.2l3.2,3.2M296.8,235.4l3.2,-3.2M294.4,232.4l3.2,3.2M294.4,235.6l3.2,-3.2M320.5,229.8l3.2,3.2M320.5,233.0l3.2,-3.2M319.9,232.9l3.2,3.2M319.9,236.1l3.2,-3.2M320.4,233.4l3.2,3.2M320.4,236.6l3.2,-3.2M328.8,227.9l3.2,3.2M328.8,231.1l3.2,-3.2M326.9,231.7l3.2,3.2M326.9,234.9l3.2,-3.2M335.1,225.9l3.2,3.2M335.1,229.1l3.2,-3.2M335.5,226.3l3.2,3.2M335.5,229.5l3.2,-3.2M334.5,232.3l3.2,3.2M334.5,235.5l3.2,-3.2M337.7,234.2l3.2,3.2M337.7,237.4l3.2,-3.2M340.2,234.2l3.2,3.2M340.2,237.4l3.2,-3.2M312.9,242.5l3.2,3.2M312.9,245.7l3.2,-3.2M313.4,242.5l3.2,3.2M313.4,245.7l3.2,-3.2M311.6,236.1l3.2,3.2M311.6,239.3l3.2,-3.2M334.8,222.2l3.2,3.2M334.8,225.4l3.2,-3.2M357.0,222.2l3.2,3.2M357.0,225.4l3.2,-3.2M354.5,225.4l3.2,3.2M354.5,228.6l3.2,-3.2M355.1,235.6l3.2,3.2M355.1,238.8l3.2,-3.2M304.4,229.4l3.2,3.2M304.4,232.6l3.2,-3.2M300.4,234.9l3.2,3.2M300.4,238.1l3.2,-3.2M290.4,236.4l3.2,3.2M290.4,239.6l3.2,-3.2" fill="none" stroke="#000" stroke-width="1.0"/>
<ellipse cx="126.2" cy="492.8" rx="3.4" ry="2.6" transform="rotate(0 126.2 492.8)" fill="none" stroke="#262626" stroke-width="0.9"/>
<ellipse cx="180.8" cy="491.1" rx="2.8" ry="2.2" transform="rotate(0 180.8 491.1)" fill="none" stroke="#262626" stroke-width="0.9"/>
<path d="M54.3,413.6 C63.0,398.7 59.2,405.0 68.3,389.5 C77.3,374.0 76.2,375.4 81.3,367.0 C86.5,358.6 82.4,364.6 83.6,364.4 C84.8,364.2 84.5,364.5 84.9,366.5 C85.3,368.5 85.8,366.1 84.7,370.4 C83.6,374.7 84.4,373.4 81.7,379.3 C79.0,385.2 80.1,381.4 76.6,388.2 C73.1,395.0 74.8,392.4 71.3,399.6 C67.8,406.8 68.9,404.2 66.0,409.8 C63.1,415.4 62.2,414.1 62.6,416.3 C63.0,418.5 65.0,415.4 67.1,416.5 C69.2,417.6 69.2,417.4 69.0,419.7 C68.8,422.0 68.8,422.0 66.5,423.5 C64.2,425.0 64.1,422.9 62.0,424.2 C59.9,425.5 60.3,424.4 60.1,427.4 C59.9,430.4 59.1,429.5 61.4,433.1 C63.7,436.7 62.7,435.4 67.1,438.2 C71.5,441.0 68.8,439.5 74.7,441.4 C80.6,443.3 78.5,441.4 84.8,444.0 C91.1,446.6 88.5,445.7 93.6,449.1 C98.7,452.5 97.4,451.3 100.1,454.2 C102.8,457.1 102.3,456.0 101.6,457.8 C100.9,459.6 102.0,460.2 97.9,459.7 C93.8,459.2 95.5,458.5 89.2,456.4 C82.9,454.3 84.1,454.0 79.0,453.5 C73.9,453.0 76.1,453.2 73.9,454.9 C71.7,456.6 71.7,456.4 72.4,458.6 C73.1,460.8 71.5,460.5 76.1,461.5 C80.7,462.5 80.7,460.8 86.3,461.5 C91.9,462.2 89.9,461.8 92.8,463.7 C95.7,465.6 95.0,464.6 95.0,467.3 C95.0,470.0 95.5,468.0 92.8,471.7 C90.1,475.4 91.6,475.1 87.0,478.3 C82.4,481.5 84.0,480.5 79.0,481.2 C74.0,481.9 75.9,480.5 72.0,480.3 C68.1,480.1 69.8,479.5 67.4,480.7 C65.0,481.9 66.5,481.8 64.8,483.9 C63.1,486.0 64.2,486.5 62.3,487.1 C60.4,487.7 60.4,487.7 59.1,485.8 C57.8,483.9 60.4,483.7 58.5,481.4 C56.6,479.1 58.1,480.1 53.4,478.8 C48.7,477.5 50.5,478.3 44.5,477.5 C38.5,476.7 41.3,477.5 35.5,476.3 C29.7,475.1 31.7,475.9 27.0,474.0 C22.3,472.1 22.4,473.2 21.5,470.5 C20.6,467.8 21.2,471.2 24.2,466.0 C27.1,460.8 24.3,465.6 30.4,455.0 C36.5,444.4 34.4,448.1 42.4,434.3 C50.3,420.5 45.7,428.5 54.3,413.6Z" fill="none" stroke="#f02040" stroke-width="1.0"/>
<path d="M53.2,417.0 C62.2,401.9 58.5,407.6 67.1,392.8 C75.7,378.0 74.4,379.7 79.0,372.5 C83.6,365.3 80.3,370.2 80.9,371.2 C81.5,372.2 82.0,371.1 80.7,375.5 C79.4,379.9 79.4,377.6 76.9,384.4 C74.4,391.2 75.6,388.6 73.1,395.8 C70.6,403.0 71.8,400.5 69.3,406.0 C66.8,411.5 67.9,408.9 65.5,412.4 C63.1,415.9 65.7,410.5 62.0,416.5 C58.3,422.5 58.6,423.3 54.4,430.5 C50.2,437.7 51.3,433.8 49.3,438.2 C47.3,442.6 48.4,438.5 48.3,443.8 C48.2,449.1 48.3,448.5 48.9,454.0 C49.5,459.5 48.3,456.6 50.2,460.4 C52.1,464.2 52.7,462.1 54.6,465.5 C56.5,468.9 56.3,467.5 55.9,470.5 C55.5,473.5 57.6,471.4 53.4,474.4 C49.2,477.4 49.2,477.6 43.2,479.5 C37.2,481.4 40.0,481.0 35.5,480.1 C31.0,479.2 30.8,479.0 29.8,476.9 C28.8,474.8 28.4,475.1 32.4,473.8 C36.4,472.5 37.0,474.2 41.9,473.1 C46.8,472.0 45.3,473.0 47.0,470.5 C48.7,468.0 48.3,468.5 47.0,465.5 C45.7,462.5 46.6,463.7 43.2,461.6 C39.8,459.5 40.4,460.8 36.8,459.1 C33.2,457.4 33.7,459.5 32.4,456.5 C31.1,453.5 30.5,456.2 33.0,450.0 C35.5,443.8 33.3,449.0 40.0,438.0 C46.7,427.0 44.1,432.1 53.2,417.0Z" fill="none" stroke="#20a030" stroke-width="1.0"/>
<path d="M58.0,408.0 C63.4,399.2 61.1,401.3 64.2,397.7 C67.3,394.1 65.5,396.0 67.4,397.1 C69.3,398.2 69.7,397.5 69.9,400.9 C70.1,404.3 68.2,403.9 68.0,407.3 C67.8,410.7 68.3,409.2 69.3,411.0 C70.3,412.8 70.2,410.0 70.9,412.7 C71.6,415.4 72.1,415.3 71.5,419.1 C70.9,422.9 71.8,422.4 69.0,424.2 C66.2,426.0 66.7,422.6 63.0,424.5 C59.3,426.4 61.0,425.5 58.0,430.0 C55.0,434.5 56.3,432.7 54.0,438.0 C51.7,443.3 51.7,440.7 51.0,446.0 C50.3,451.3 53.0,448.7 52.0,454.0 C51.0,459.3 52.0,457.7 48.0,462.0 C44.0,466.3 46.0,464.7 40.0,467.0 C34.0,469.3 36.2,467.0 30.0,469.0 C23.8,471.0 23.0,470.0 21.5,473.1 C20.0,476.2 25.2,475.2 25.4,478.2 C25.6,481.2 24.8,482.1 22.0,482.0 C19.2,481.9 17.0,482.7 17.0,478.0 C17.0,473.3 16.0,478.7 22.0,468.0 C28.0,457.3 26.3,460.7 35.0,446.0 C43.7,431.3 40.3,436.7 48.0,424.0 C55.7,411.3 52.6,416.8 58.0,408.0Z" fill="none" stroke="#f08020" stroke-width="1.0" stroke-dasharray="2.6 1.6"/>
<path d="M55.8,411.0 C57.6,408.4 56.3,409.8 57.5,410.8 C58.7,411.8 59.3,409.1 59.5,414.0 C59.7,418.9 59.1,418.7 58.2,425.5 C57.3,432.3 58.2,430.6 56.9,434.4 C55.6,438.2 56.5,436.9 54.4,436.9 C52.3,436.9 53.3,433.4 50.5,434.4 C47.7,435.4 49.5,435.5 46.0,440.0 C42.5,444.5 43.5,444.2 40.0,448.0 C36.5,451.8 38.0,447.8 35.5,451.5 C33.0,455.2 34.7,454.2 32.4,459.1 C30.1,464.0 29.8,462.3 28.5,466.1 C27.2,469.9 26.6,468.4 28.5,470.5 C30.4,472.6 31.1,472.9 34.3,472.5 C37.5,472.1 35.6,472.1 38.1,469.3 C40.6,466.5 39.3,467.0 41.9,464.2 C44.5,461.4 46.0,463.4 46.0,461.0 C46.0,458.6 45.3,459.0 42.0,457.0 C38.7,455.0 39.0,456.7 36.0,455.0 C33.0,453.3 32.3,456.0 33.0,452.0 C33.7,448.0 34.0,450.0 38.0,443.0 C42.0,436.0 40.3,439.2 45.0,431.0 C49.7,422.8 48.4,425.2 52.0,418.5 C55.6,411.8 54.0,413.6 55.8,411.0Z" fill="none" stroke="#262626" stroke-width="1.0"/>
<path d="M59.5,436.3 C64.0,436.0 63.3,436.7 68.4,438.2 C73.5,439.7 70.9,440.7 74.7,440.7 C78.5,440.7 77.4,439.9 79.8,438.2 C82.2,436.5 80.1,436.3 82.0,435.5 C83.9,434.7 83.8,434.0 85.5,435.9 C87.2,437.8 85.8,437.4 87.0,441.1 C88.2,444.8 86.5,444.0 89.2,446.9 C91.9,449.8 90.6,449.6 95.0,449.8 C99.4,450.0 97.4,449.5 102.3,447.6 C107.2,445.7 105.7,444.7 109.6,444.0 C113.5,443.3 112.1,442.5 114.0,445.4 C115.9,448.3 114.7,447.3 115.4,452.7 C116.1,458.1 114.2,455.2 116.2,461.5 C118.2,467.8 118.6,465.9 121.3,471.7 C124.0,477.5 124.2,475.6 124.2,479.0 C124.2,482.4 123.5,482.9 121.3,481.9 C119.1,480.9 120.0,481.4 117.6,476.1 C115.2,470.8 116.7,471.3 114.0,465.9 C111.3,460.5 112.5,462.1 109.6,460.0 C106.7,457.9 108.6,458.2 105.2,459.7 C101.8,461.2 103.3,460.4 99.4,464.4 C95.5,468.4 98.0,466.4 93.6,471.7 C89.2,477.0 91.2,475.1 86.3,480.4 C81.4,485.7 83.4,483.8 79.0,487.7 C74.6,491.6 76.1,491.5 73.1,492.1 C70.1,492.7 71.0,492.7 69.9,489.5 C68.8,486.3 70.2,486.9 69.7,482.6 C69.2,478.3 70.1,480.3 68.5,476.5 C66.9,472.7 68.1,472.8 64.8,471.2 C61.5,469.6 62.8,471.5 58.5,471.8 C54.2,472.1 55.5,473.9 52.0,472.0 C48.5,470.1 48.7,471.3 48.0,466.0 C47.3,460.7 48.3,462.7 50.0,456.0 C51.7,449.3 51.3,451.7 53.0,446.0 C54.7,440.3 52.8,442.2 55.0,439.0 C57.2,435.8 55.0,436.6 59.5,436.3Z" fill="none" stroke="#3030f0" stroke-width="1.0" stroke-dasharray="4.4 2.2"/>
<path d="M27.9,478.2 C31.9,476.7 30.7,478.3 36.0,480.0 C41.3,481.7 40.7,480.0 43.8,483.3 C46.9,486.6 44.6,485.6 45.2,490.0 C45.8,494.4 49.1,494.3 45.7,496.4 C42.3,498.5 42.2,496.5 35.0,496.4 C27.8,496.3 27.7,500.2 24.1,496.2 C20.5,492.2 22.8,490.5 24.1,484.5 C25.4,478.5 23.9,479.7 27.9,478.2Z" fill="none" stroke="#3030f0" stroke-width="1.0" stroke-dasharray="4.4 2.2"/>
<path d="M17.1,483.3 C16.5,486.6 17.1,486.3 20.3,489.0 C23.5,491.7 20.2,491.3 26.6,491.5 C33.0,491.7 33.0,490.4 39.4,489.6 C45.8,488.8 42.5,488.1 45.7,489.0 C48.9,489.9 46.8,491.6 48.9,492.2 C51.0,492.8 49.8,492.8 52.1,490.9 C54.4,489.0 52.9,489.0 55.9,486.5 C58.9,484.0 58.3,485.5 61.0,483.3 C63.7,481.1 64.4,483.4 64.0,480.0 C63.6,476.6 59.6,477.3 59.7,473.1 C59.8,468.9 61.4,469.9 64.2,467.4 C67.0,464.9 66.9,464.9 68.0,465.5 C69.1,466.1 69.4,466.1 67.4,469.3 C65.4,472.5 66.1,472.1 62.0,475.0 C57.9,477.9 60.7,477.3 55.0,478.0 C49.3,478.7 52.3,476.7 45.0,477.0 C37.7,477.3 40.7,478.3 33.0,479.0 C25.3,479.7 27.3,477.6 22.0,479.0 C16.7,480.4 17.7,480.0 17.1,483.3Z" fill="none" stroke="#8a8a8a" stroke-width="1.0"/>
<path d="M17.7,482.0 C20.8,484.8 22.8,481.8 29.2,483.3 C35.6,484.8 32.7,485.1 36.8,486.5 C40.9,487.9 41.1,489.3 41.5,487.5 C41.9,485.7 41.8,485.5 38.0,481.0 C34.2,476.5 34.7,477.7 30.0,474.0 C25.3,470.3 27.3,469.7 24.0,470.0 C20.7,470.3 22.1,471.0 20.0,475.0 C17.9,479.0 14.6,479.2 17.7,482.0Z" fill="none" stroke="#f020f0" stroke-width="1.0" stroke-dasharray="2.8 1.7"/>
<path d="M40.0,441.0 C36.7,446.7 36.7,446.3 30.0,458.0 C23.3,469.7 23.3,470.0 20.0,476.0" fill="none" stroke="#f020f0" stroke-width="1.0" stroke-dasharray="2.8 1.7"/>
<path d="M50.9,421.9l3.2,3.2M50.9,425.1l3.2,-3.2M48.3,432.1l3.2,3.2M48.3,435.3l3.2,-3.2M52.8,433.4l3.2,3.2M52.8,436.6l3.2,-3.2M43.2,439.8l3.2,3.2M43.2,443.0l3.2,-3.2M43.7,440.3l3.2,3.2M43.7,443.5l3.2,-3.2M40.7,442.9l3.2,3.2M40.7,446.1l3.2,-3.2M45.8,439.8l3.2,3.2M45.8,443.0l3.2,-3.2M64.9,448.0l3.2,3.2M64.9,451.2l3.2,-3.2M66.6,453.9l3.2,3.2M66.6,457.1l3.2,-3.2M41.9,451.2l3.2,3.2M41.9,454.4l3.2,-3.2M34.9,453.8l3.2,3.2M34.9,457.0l3.2,-3.2M35.4,454.3l3.2,3.2M35.4,457.5l3.2,-3.2M37.5,456.9l3.2,3.2M37.5,460.1l3.2,-3.2M40.7,455.7l3.2,3.2M40.7,458.9l3.2,-3.2M37.0,461.4l3.2,3.2M37.0,464.6l3.2,-3.2M41.6,443.5l3.2,3.2M41.6,446.7l3.2,-3.2M44.1,440.3l3.2,3.2M44.1,443.5l3.2,-3.2M48.6,467.0l3.2,3.2M48.6,470.2l3.2,-3.2M46.7,472.1l3.2,3.2M46.7,475.3l3.2,-3.2M47.2,472.6l3.2,3.2M47.2,475.8l3.2,-3.2M50.5,472.8l3.2,3.2M50.5,476.0l3.2,-3.2M51.0,473.3l3.2,3.2M51.0,476.5l3.2,-3.2M44.9,472.8l3.2,3.2M44.9,476.0l3.2,-3.2M55.6,473.4l3.2,3.2M55.6,476.6l3.2,-3.2M59.4,474.0l3.2,3.2M59.4,477.2l3.2,-3.2M59.9,474.5l3.2,3.2M59.9,477.7l3.2,-3.2M62.6,474.7l3.2,3.2M62.6,477.9l3.2,-3.2M67.0,474.7l3.2,3.2M67.0,477.9l3.2,-3.2M50.5,477.9l3.2,3.2M50.5,481.1l3.2,-3.2M30.1,477.2l3.2,3.2M30.1,480.4l3.2,-3.2M30.6,477.7l3.2,3.2M30.6,480.9l3.2,-3.2M40.1,485.7l3.2,3.2M40.1,488.9l3.2,-3.2M40.6,486.2l3.2,3.2M40.6,489.4l3.2,-3.2M81.3,466.2l3.2,3.2M81.3,469.4l3.2,-3.2M81.7,469.4l3.2,3.2M81.7,472.6l3.2,-3.2M81.0,476.2l3.2,3.2M81.0,479.4l3.2,-3.2M83.2,476.2l3.2,3.2M83.2,479.4l3.2,-3.2" fill="none" stroke="#000" stroke-width="1.0"/>
<ellipse cx="411.7" cy="300.5" rx="3.6" ry="1.9" transform="rotate(-40 411.7 300.5)" fill="none" stroke="#8a8a8a" stroke-width="1.0"/>
<ellipse cx="373.6" cy="349.5" rx="2.8" ry="2.8" transform="rotate(0 373.6 349.5)" fill="none" stroke="#262626" stroke-width="1.0"/>
<ellipse cx="317.6" cy="454.1" rx="3.2" ry="3.8" transform="rotate(-20 317.6 454.1)" fill="none" stroke="#262626" stroke-width="1.0"/>
<ellipse cx="304" cy="469.5" rx="2.8" ry="2.8" transform="rotate(0 304 469.5)" fill="none" stroke="#262626" stroke-width="1.0"/>
<ellipse cx="340" cy="475.4" rx="8.2" ry="2.7" transform="rotate(42 340 475.4)" fill="none" stroke="#262626" stroke-width="1.0"/>
<ellipse cx="359.5" cy="480.7" rx="3.2" ry="3.6" transform="rotate(0 359.5 480.7)" fill="none" stroke="#262626" stroke-width="1.0"/>
<ellipse cx="404.9" cy="449.8" rx="3" ry="4" transform="rotate(-10 404.9 449.8)" fill="none" stroke="#262626" stroke-width="1.0"/>
<ellipse cx="462" cy="369" rx="3.2" ry="3.2" transform="rotate(0 462 369)" fill="none" stroke="#f08020" stroke-width="1.0" stroke-dasharray="2.4 1.6"/>
<ellipse cx="460.9" cy="406.2" rx="5" ry="3" transform="rotate(-20 460.9 406.2)" fill="none" stroke="#f08020" stroke-width="1.0" stroke-dasharray="2.6 1.6"/>
<ellipse cx="451.6" cy="473.2" rx="3.3" ry="3.6" transform="rotate(0 451.6 473.2)" fill="none" stroke="#f08020" stroke-width="1.0" stroke-dasharray="2.4 1.6"/>
<ellipse cx="401" cy="426.5" rx="3.5" ry="5.5" transform="rotate(0 401 426.5)" fill="none" stroke="#f020f0" stroke-width="1.0" stroke-dasharray="2.6 1.8"/>
<ellipse cx="414.5" cy="334.2" rx="7.9" ry="3.7" transform="rotate(0 414.5 334.2)" fill="none" stroke="#3030f0" stroke-width="1.0" stroke-dasharray="4.4 2.2"/>
<ellipse cx="436" cy="408.4" rx="14" ry="6" transform="rotate(15 436 408.4)" fill="none" stroke="#3030f0" stroke-width="1.0" stroke-dasharray="4.4 2.2"/>
<ellipse cx="431.2" cy="438.1" rx="3.6" ry="6.5" transform="rotate(-20 431.2 438.1)" fill="none" stroke="#8a8a8a" stroke-width="1.0"/>
<path d="M365.2,402.0 C366.2,400.5 366.7,401.3 369.6,399.1 C372.5,396.9 371.8,398.1 374.0,395.4 C376.2,392.7 374.0,392.5 376.2,391.1 C378.4,389.7 378.8,389.7 380.5,391.1 C382.2,392.5 382.5,392.3 381.3,395.4 C380.1,398.5 380.3,397.8 376.9,400.5 C373.5,403.2 374.5,402.5 371.1,403.5 C367.7,404.5 368.7,404.0 366.7,403.5 C364.7,403.0 364.2,403.5 365.2,402.0Z" fill="none" stroke="#8a8a8a" stroke-width="1.0"/>
<path d="M454.9,342.5 C452.2,341.5 450.2,342.5 446.7,339.6 C443.2,336.7 445.3,338.3 444.3,333.8 C443.3,329.3 444.7,330.5 443.6,326.0 C442.5,321.5 443.6,323.0 441.0,320.2 C438.4,317.4 440.6,317.4 435.9,317.6 C431.2,317.8 432.9,317.4 427.0,320.8 C421.1,324.2 424.5,322.3 418.1,327.8 C411.7,333.3 414.7,331.5 407.9,337.4 C401.1,343.3 404.1,339.9 397.7,345.6 C391.3,351.3 392.8,349.4 388.8,354.5 C384.8,359.6 386.4,357.6 385.6,360.9 C384.8,364.2 385.0,362.4 386.5,364.5 C388.0,366.6 385.5,365.5 390.1,367.3 C394.7,369.1 393.7,368.7 400.3,369.8 C406.9,370.9 403.2,371.8 410.0,370.5 C416.8,369.2 414.5,370.0 420.6,366.0 C426.7,362.0 423.6,362.6 428.3,358.4 C433.0,354.2 431.9,354.4 434.6,353.3 C437.3,352.2 436.5,352.0 436.5,355.0 C436.5,358.0 436.9,357.3 434.6,362.2 C432.3,367.1 432.0,365.2 429.5,369.8 C427.0,374.4 427.5,370.4 427.2,376.0 C426.9,381.6 427.5,381.0 428.6,386.5 C429.7,392.0 430.2,387.6 430.4,392.6 C430.6,397.6 430.2,396.6 429.2,401.5 C428.2,406.4 427.9,405.3 427.3,407.2" fill="none" stroke="#8a8a8a" stroke-width="1.0"/>
<path d="M416.5,416.6 C419.2,414.5 418.6,415.0 425.4,411.6 C432.2,408.2 430.1,408.4 436.8,406.5 C443.5,404.6 441.8,405.5 445.6,405.9 C449.4,406.3 449.0,406.3 448.2,407.8 C447.4,409.3 448.2,408.4 443.1,410.3 C438.0,412.2 439.8,411.2 433.0,413.5 C426.2,415.8 428.1,415.8 422.8,417.3 C417.5,418.8 419.3,418.1 417.2,417.9 C415.1,417.7 413.8,418.7 416.5,416.6Z" fill="none" stroke="#8a8a8a" stroke-width="1.0"/>
<path d="M445.6,425.5 C447.3,424.2 447.6,423.8 450.7,421.7 C453.8,419.6 453.6,420.0 455.0,419.2" fill="none" stroke="#8a8a8a" stroke-width="1.0"/>
<path d="M392.0,337.4 C391.6,335.3 391.3,336.1 394.5,334.8 C397.7,333.5 397.0,333.7 401.5,333.5 C406.0,333.3 404.7,333.1 407.9,334.2 C411.1,335.3 410.7,334.8 411.1,336.7 C411.5,338.6 412.0,338.2 409.2,339.9 C406.4,341.6 407.3,341.4 402.8,341.8 C398.3,342.2 399.4,342.7 395.8,341.2 C392.2,339.7 392.4,339.5 392.0,337.4Z" fill="none" stroke="#f02040" stroke-width="1.0"/>
<path d="M432.1,321.2 C430.0,321.4 429.4,320.5 428.3,324.0 C427.2,327.5 429.1,327.1 428.9,331.6 C428.7,336.1 429.9,333.6 427.6,337.4 C425.3,341.2 426.3,339.1 421.9,343.1 C417.5,347.1 419.4,345.3 414.3,349.5 C409.2,353.7 410.0,352.0 406.6,355.8 C403.2,359.6 404.5,357.3 404.1,360.9 C403.7,364.5 403.3,363.6 405.4,366.6 C407.5,369.6 407.1,369.6 410.5,369.8 C413.9,370.0 412.3,370.7 415.5,367.3 C418.7,363.9 417.2,365.1 420.0,359.6 C422.8,354.1 421.0,355.4 423.8,350.7 C426.6,346.0 424.9,348.1 428.3,345.6 C431.7,343.1 430.6,343.5 434.0,343.3 C437.4,343.1 435.7,343.2 438.5,345.0 C441.3,346.8 439.3,347.1 442.3,348.8 C445.3,350.5 444.9,350.7 447.4,350.1 C449.9,349.5 450.1,350.1 449.9,346.9 C449.7,343.7 450.1,344.5 446.7,340.5 C443.3,336.5 442.9,338.6 439.7,334.8 C436.5,331.0 438.9,332.9 437.2,329.1 C435.5,325.3 436.3,326.0 434.6,323.4 C432.9,320.8 434.2,321.0 432.1,321.2Z" fill="none" stroke="#f02040" stroke-width="1.0"/>
<path d="M419.4,328.5 C421.5,328.7 421.0,327.8 425.7,329.1 C430.4,330.4 428.3,329.5 433.4,332.3 C438.5,335.1 435.9,333.4 441.0,337.4 C446.1,341.4 443.9,339.5 448.6,344.4 C453.3,349.3 452.0,347.3 455.0,352.0 C458.0,356.7 457.0,352.9 457.6,358.5 C458.2,364.1 457.1,363.0 456.9,368.8 C456.7,374.6 455.4,370.7 456.9,376.0 C458.4,381.3 457.5,378.9 461.3,384.8 C465.1,390.7 462.5,389.3 468.2,393.8 C473.9,398.3 472.1,394.3 478.4,398.2 C484.7,402.1 481.3,400.2 487.1,405.5 C492.9,410.8 491.8,407.0 495.9,414.2 C500.0,421.4 499.2,419.9 499.4,427.1 C499.6,434.3 499.4,430.5 496.5,435.9 C493.6,441.3 493.5,439.7 490.7,443.2 C487.9,446.7 486.3,447.5 488.2,446.3 C490.1,445.1 492.7,443.6 496.3,439.5 C499.9,435.4 498.2,435.9 499.1,434.1" fill="none" stroke="#f020f0" stroke-width="1.0" stroke-dasharray="2.8 1.7"/>
<path d="M422.5,334.8 C424.4,335.0 424.3,334.2 428.3,335.5 C432.3,336.8 431.0,335.9 434.6,338.6 C438.2,341.3 437.4,340.1 439.1,343.7 C440.8,347.3 440.1,345.0 439.7,349.5 C439.3,354.0 439.7,352.0 437.8,357.1 C435.9,362.2 436.0,360.3 434.0,364.7 C432.0,369.1 430.5,366.5 431.7,370.4 C432.9,374.3 433.6,371.9 437.5,376.3 C441.4,380.7 440.9,377.8 443.3,383.6 C445.7,389.4 445.6,387.7 444.8,393.8 C444.0,399.9 445.3,397.3 441.0,402.0 C436.7,406.7 437.3,400.6 432.0,408.0 C426.7,415.4 424.9,415.9 425.0,424.2 C425.1,432.5 427.4,428.0 432.3,432.9 C437.2,437.8 433.8,438.8 439.6,438.8 C445.4,438.8 444.9,437.8 449.8,432.9 C454.7,428.0 451.3,430.0 454.2,424.2 C457.1,418.4 454.2,419.8 458.6,415.4 C463.0,411.0 461.5,412.1 467.3,411.1 C473.1,410.1 471.7,409.6 476.1,412.5 C480.5,415.4 480.0,414.4 480.5,419.8 C481.0,425.2 481.4,422.8 477.5,428.6 C473.6,434.4 473.2,432.0 468.8,437.3 C464.4,442.6 464.4,440.7 464.4,444.6 C464.4,448.5 464.9,447.0 468.8,449.0 C472.7,451.0 470.3,449.0 476.1,450.5 C481.9,452.0 480.5,453.0 486.3,453.4 C492.1,453.8 487.5,452.3 493.6,451.8 C499.7,451.3 497.7,452.0 504.5,451.8 C511.3,451.6 510.8,451.3 514.0,451.1" fill="none" stroke="#f020f0" stroke-width="1.0" stroke-dasharray="2.8 1.7"/>
<path d="M453.6,350.0 C454.6,353.9 455.5,353.9 456.5,361.7 C457.5,369.5 455.0,365.5 456.5,373.3 C458.0,381.1 457.0,378.2 460.9,385.0 C464.8,391.8 465.8,390.9 468.2,393.8" fill="none" stroke="#f020f0" stroke-width="1.0" stroke-dasharray="2.8 1.7"/>
<path d="M426.0,425.0 C428.5,428.9 427.5,433.3 433.4,436.7 C439.3,440.1 437.3,437.6 443.6,435.2 C449.9,432.8 449.4,431.3 452.3,429.4" fill="none" stroke="#f020f0" stroke-width="1.0" stroke-dasharray="2.8 1.7"/>
<path d="M514.0,457.2 C511.7,459.5 511.7,459.4 507.2,464.0 C502.7,468.6 504.9,467.3 500.4,470.9 C495.9,474.5 495.9,473.6 493.6,474.9" fill="none" stroke="#f020f0" stroke-width="1.0" stroke-dasharray="2.8 1.7"/>
<path d="M403.2,406.4 C403.9,404.0 401.7,404.9 406.1,402.0 C410.5,399.1 409.0,399.7 416.3,397.6 C423.6,395.5 421.9,396.1 428.0,395.8 C434.1,395.5 428.5,396.9 434.6,396.7 C440.7,396.5 439.5,397.1 446.3,395.2 C453.1,393.3 449.7,394.8 455.0,390.9 C460.3,387.0 457.4,387.0 462.3,383.6 C467.2,380.2 465.2,381.6 469.6,380.6 C474.0,379.6 472.7,380.1 475.4,380.6 C478.1,381.1 476.5,380.9 477.7,382.0 C479.0,383.1 473.5,374.3 479.2,384.0 C484.9,393.7 483.0,390.4 494.9,411.0 C506.8,431.6 501.6,422.7 514.9,445.7 C528.2,468.7 527.1,466.6 534.7,480.0 C542.3,493.4 536.2,482.9 537.8,486.0 C539.3,489.1 539.6,487.5 539.4,489.3 C539.2,491.1 539.8,491.1 537.2,491.3 C534.6,491.5 535.8,491.3 531.7,489.9 C527.6,488.5 532.1,490.0 524.9,487.2 C517.7,484.4 520.4,484.9 510.0,481.5 C499.6,478.1 502.3,478.2 493.6,477.0 C484.9,475.8 491.9,477.2 484.0,478.0 C476.1,478.8 479.7,479.2 470.0,479.5 C460.3,479.8 464.8,478.4 455.0,479.0 C445.2,479.6 449.4,480.2 440.7,481.2 C432.0,482.2 434.6,482.6 429.0,481.9 C423.4,481.2 425.8,481.4 423.9,479.0 C422.0,476.6 424.9,476.3 423.2,474.6 C421.5,472.9 425.1,472.7 418.8,473.9 C412.5,475.1 412.0,475.4 404.2,478.3 C396.4,481.2 401.0,479.7 395.4,482.6 C389.8,485.5 392.3,486.7 387.4,487.0 C382.5,487.3 385.1,485.5 380.8,483.4 C376.5,481.3 377.8,480.0 374.4,480.7 C371.0,481.4 373.1,482.7 370.5,485.6 C367.9,488.5 369.0,489.2 366.7,489.5 C364.4,489.8 364.7,489.8 363.7,486.6 C362.7,483.4 364.7,483.7 363.7,479.8 C362.7,475.9 363.4,478.2 360.8,474.9 C358.2,471.6 358.3,473.6 356.0,470.0 C353.7,466.4 354.0,467.8 354.0,464.2 C354.0,460.6 353.7,461.9 356.0,459.3 C358.3,456.7 356.6,457.7 360.8,456.4 C365.0,455.1 364.7,454.7 368.6,455.4 C372.5,456.1 369.9,456.4 372.5,458.4 C375.1,460.4 373.7,461.0 376.5,461.5 C379.3,462.0 378.9,463.9 380.8,460.0 C382.7,456.1 382.4,456.6 382.3,449.8 C382.2,443.0 381.1,444.2 380.6,439.6 C380.1,435.0 379.7,438.6 380.8,435.9 C381.9,433.2 380.9,432.6 383.8,431.6 C386.7,430.6 385.7,430.6 389.6,433.0 C393.5,435.4 390.5,435.2 395.4,438.9 C400.3,442.6 398.8,440.9 404.2,444.0 C409.6,447.1 407.1,446.4 411.5,448.3 C415.9,450.2 413.4,450.5 417.3,449.8 C421.2,449.1 419.3,447.2 423.2,446.2 C427.1,445.2 424.6,446.3 429.0,446.9 C433.4,447.5 431.8,449.7 436.3,448.0 C440.8,446.3 438.0,445.7 442.5,441.7 C447.0,437.7 445.9,439.5 449.8,435.9 C453.7,432.3 451.8,431.3 454.2,430.8 C456.6,430.3 454.2,432.7 457.1,434.4 C460.0,436.1 458.5,435.9 462.9,435.9 C467.3,435.9 466.3,433.9 470.2,434.4 C474.1,434.9 471.7,434.9 474.6,437.3 C477.5,439.7 475.6,438.8 479.0,441.7 C482.4,444.6 481.9,446.1 484.8,446.1 C487.7,446.1 487.2,445.1 487.7,441.7 C488.2,438.3 488.2,439.8 486.3,435.9 C484.4,432.0 485.3,434.4 481.9,430.0 C478.5,425.6 479.3,427.6 476.1,422.7 C472.9,417.8 473.9,420.7 472.4,415.4 C470.9,410.1 472.9,411.1 471.7,406.7 C470.5,402.3 472.0,404.2 468.8,402.3 C465.6,400.4 468.5,400.9 462.0,401.0 C455.5,401.1 456.9,402.0 449.2,402.5 C441.5,403.0 445.8,401.5 439.0,402.5 C432.2,403.5 434.4,403.2 428.8,405.5 C423.2,407.8 427.2,407.5 422.1,409.3 C417.0,411.1 419.5,410.8 413.4,410.8 C407.3,410.8 407.3,410.8 403.9,409.3 C400.5,407.8 402.5,408.8 403.2,406.4Z" fill="none" stroke="#f02040" stroke-width="1.0"/>
<path d="M478.9,383.5 L539.0,487.5" stroke="#f02040" stroke-width="1.25" fill="none"/>
<path d="M383.0,432.1 C382.1,433.7 380.9,432.8 380.3,437.0 C379.7,441.2 380.3,440.4 381.2,444.7 C382.1,449.0 382.4,448.2 383.0,450.0" fill="none" stroke="#f02040" stroke-width="1.0"/>
<path d="M322.9,476.8 C323.9,474.2 323.2,474.5 326.8,473.9 C330.4,473.3 328.7,473.9 333.6,474.9 C338.5,475.9 336.2,476.5 341.4,476.8 C346.6,477.1 344.9,477.5 349.1,475.9 C353.3,474.3 352.0,475.6 354.0,472.0 C356.0,468.4 352.7,469.4 355.0,465.2 C357.3,461.0 356.3,461.9 360.8,459.3 C365.3,456.7 364.1,456.7 368.6,457.4 C373.1,458.1 369.8,457.5 374.4,461.3 C379.0,465.1 376.8,466.3 382.3,468.8 C387.8,471.3 384.7,469.8 391.0,468.8 C397.3,467.8 395.0,468.1 401.3,465.9 C407.6,463.7 404.2,465.4 410.0,462.2 C415.8,459.0 413.9,461.0 418.8,456.4 C423.7,451.8 421.2,453.2 424.6,448.3 C428.0,443.4 425.1,444.2 429.0,441.8 C432.9,439.4 432.3,440.5 436.3,441.0 C440.3,441.5 436.6,440.8 441.1,443.2 C445.6,445.6 443.0,446.1 449.8,448.3 C456.6,450.5 454.7,449.7 461.5,449.7 C468.3,449.7 464.4,448.0 470.2,448.3 C476.0,448.6 473.2,448.3 479.0,450.5 C484.8,452.7 482.8,451.9 487.7,454.8 C492.6,457.7 491.2,458.8 493.6,459.2 C496.0,459.6 495.0,460.2 495.0,455.9 C495.0,451.6 491.8,450.6 493.6,446.3 C495.4,442.0 496.3,442.9 500.4,442.9 C504.5,442.9 501.8,442.0 505.9,446.3 C510.0,450.6 509.1,450.0 512.7,455.9 C516.3,461.8 514.1,458.6 516.8,464.0 C519.5,469.4 518.6,467.2 520.9,472.2 C523.2,477.2 523.6,475.6 523.6,479.0 C523.6,482.4 523.6,481.9 520.9,482.4 C518.2,482.9 520.0,482.5 515.4,480.4 C510.8,478.3 514.5,476.2 507.2,476.0 C499.9,475.8 501.3,478.0 493.6,479.7 C485.9,481.4 492.0,480.2 484.1,481.1 C476.2,482.0 479.7,481.7 470.0,482.5 C460.3,483.3 467.2,482.9 455.0,483.4 C442.8,483.9 445.5,483.9 433.4,484.1 C421.3,484.3 427.6,483.4 418.8,484.1 C410.0,484.8 414.4,484.6 407.1,486.3 C399.8,488.0 402.7,488.7 396.9,489.2 C391.1,489.7 394.5,489.6 389.6,487.7 C384.7,485.8 387.4,486.0 382.3,483.4 C377.2,480.8 380.3,479.7 374.4,479.8 C368.5,479.9 370.5,482.4 364.7,483.7 C358.9,485.0 362.1,484.7 356.9,483.7 C351.7,482.7 354.3,481.4 349.1,480.7 C343.9,480.0 345.9,480.1 341.4,481.7 C336.9,483.3 338.8,482.4 335.5,485.6 C332.2,488.8 334.2,490.1 331.6,491.4 C329.0,492.7 330.3,492.7 327.7,489.5 C325.1,486.3 325.5,485.9 323.9,481.7 C322.3,477.5 321.9,479.4 322.9,476.8Z" fill="none" stroke="#3030f0" stroke-width="1.0" stroke-dasharray="4.4 2.2"/>
<path d="M480.0,453.1 C481.8,455.8 482.7,455.4 485.4,461.3 C488.1,467.2 486.3,465.7 488.2,470.9 C490.1,476.1 490.1,475.0 491.0,477.0" fill="none" stroke="#3030f0" stroke-width="1.0" stroke-dasharray="4.4 2.2"/>
<path d="M405.6,468.0 C406.1,466.1 404.2,466.9 408.6,465.9 C413.0,464.9 411.5,466.1 418.8,465.1 C426.1,464.1 423.7,465.3 430.5,462.9 C437.3,460.5 434.4,460.2 439.2,457.8 C444.0,455.4 441.6,455.6 445.0,455.6 C448.4,455.6 448.4,455.1 449.4,457.8 C450.4,460.5 450.9,460.0 448.0,463.7 C445.1,467.4 446.1,465.4 440.7,468.8 C435.3,472.2 437.3,472.2 431.9,473.9 C426.5,475.6 429.9,474.6 424.6,473.9 C419.3,473.2 421.7,472.4 415.9,471.7 C410.1,471.0 410.5,472.9 407.1,471.7 C403.7,470.5 405.1,469.9 405.6,468.0Z" fill="none" stroke="#20a030" stroke-width="1.0"/>
<path d="M515.4,456.6 C513.6,457.0 513.1,458.1 508.6,461.3 C504.1,464.5 506.8,463.4 501.8,466.1 C496.8,468.8 499.5,468.1 493.6,469.5 C487.7,470.9 489.3,469.0 484.1,470.2 C478.9,471.4 477.6,471.0 478.0,473.0 C478.4,475.0 480.2,476.1 485.4,476.3 C490.6,476.5 488.1,475.0 493.6,473.6 C499.1,472.2 496.3,472.2 501.8,472.2 C507.3,472.2 504.6,471.3 510.0,473.6 C515.4,475.9 512.7,475.4 518.1,479.0 C523.5,482.6 520.8,481.3 526.3,484.5 C531.8,487.7 530.4,487.7 534.5,488.6 C538.6,489.5 538.6,489.5 538.6,487.2 C538.6,484.9 537.7,484.9 534.5,481.7 C531.3,478.5 533.1,479.5 529.0,477.7 C524.9,475.9 526.7,478.6 522.2,476.3 C517.7,474.0 518.6,474.5 515.4,470.9 C512.2,467.3 513.2,469.0 512.7,465.4 C512.2,461.8 513.1,462.9 514.0,460.0 C514.9,457.1 517.2,456.2 515.4,456.6Z" fill="none" stroke="#20a030" stroke-width="1.0"/>
<path d="M456.5,371.2 C455.5,373.1 456.5,372.6 455.0,377.7 C453.5,382.8 456.5,383.1 452.1,386.5 C447.7,389.9 447.2,386.9 441.9,387.9 C436.6,388.9 438.0,387.7 436.1,389.4 C434.2,391.1 434.2,391.3 436.1,393.0 C438.0,394.7 437.1,394.5 441.9,394.5 C446.7,394.5 445.3,394.0 450.6,393.0 C455.9,392.0 453.5,391.6 457.9,391.6 C462.3,391.6 461.6,390.8 463.8,393.0 C466.0,395.2 465.5,395.3 464.5,398.2 C463.5,401.1 463.8,399.6 460.9,401.8 C458.0,404.0 456.4,402.8 455.8,404.7 C455.2,406.6 454.9,407.2 459.0,407.5 C463.1,407.8 462.5,407.2 468.2,405.5 C473.9,403.8 473.1,404.9 476.2,402.5 C479.3,400.1 478.8,401.1 477.6,398.2 C476.4,395.3 476.1,396.2 472.5,393.8 C468.9,391.4 469.9,393.8 466.7,390.9 C463.5,388.0 464.7,389.4 463.0,385.0 C461.3,380.6 463.3,382.1 461.6,377.7 C459.9,373.3 459.6,374.1 457.9,371.9 C456.2,369.7 457.5,369.3 456.5,371.2Z" fill="none" stroke="#262626" stroke-width="1.0"/>
<path d="M492.3,430.0 C490.3,429.3 492.2,433.2 496.3,438.2 C500.4,443.2 499.0,440.5 504.5,445.0 C510.0,449.5 508.4,447.3 512.7,451.8 C517.0,456.3 514.8,453.6 517.5,458.6 C520.2,463.6 517.5,460.9 520.9,466.8 C524.3,472.7 523.6,470.9 527.7,476.3 C531.8,481.7 531.1,479.5 533.1,483.1 C535.1,486.7 534.7,484.9 533.8,487.2 C532.9,489.5 533.8,489.4 530.4,489.9 C527.0,490.4 527.7,490.9 523.6,488.6 C519.5,486.3 521.7,487.2 518.1,483.1 C514.5,479.0 516.8,480.4 512.7,476.3 C508.6,472.2 510.0,474.1 505.9,470.9 C501.8,467.7 504.0,469.1 500.4,466.8 C496.8,464.5 499.1,465.4 495.0,464.0 C490.9,462.6 492.3,462.2 488.2,462.7 C484.1,463.2 486.8,463.0 482.7,465.4 C478.6,467.8 480.9,467.6 476.0,470.0 C471.1,472.4 471.3,470.8 468.0,472.5 C464.7,474.2 464.7,473.8 466.0,475.0 C467.3,476.2 466.7,476.7 472.0,476.0 C477.3,475.3 476.0,475.3 482.0,473.0 C488.0,470.7 485.0,472.7 490.0,469.0 C495.0,465.3 494.3,467.3 497.0,462.0 C499.7,456.7 498.7,459.0 498.0,453.0 C497.3,447.0 496.8,449.3 495.0,444.0 C493.2,438.7 493.7,442.9 492.5,437.0 C491.3,431.1 490.6,429.7 491.4,426.4 C492.2,423.1 492.8,424.9 495.0,427.1 C497.2,429.3 495.6,428.5 498.0,432.9 C500.4,437.3 504.2,441.2 502.3,440.2 C500.4,439.2 494.3,430.7 492.3,430.0Z" fill="none" stroke="#262626" stroke-width="1.0"/>
<path d="M488.2,461.3 C489.6,456.1 489.1,457.0 492.3,454.5 C495.5,452.0 494.1,452.0 497.7,453.8 C501.3,455.6 499.1,455.7 503.2,460.0 C507.3,464.3 505.0,462.7 510.0,466.8 C515.0,470.9 512.2,469.0 518.1,472.2 C524.0,475.4 522.2,473.1 527.7,476.3 C533.2,479.5 531.1,478.3 534.5,481.7 C537.9,485.1 538.1,484.2 537.9,486.5 C537.7,488.8 537.0,488.7 534.0,488.5 C531.0,488.3 533.4,488.5 529.0,485.8 C524.6,483.1 526.8,483.3 520.9,480.4 C515.0,477.5 517.7,478.4 511.3,477.0 C504.9,475.6 507.7,477.0 501.8,476.3 C495.9,475.6 498.2,477.0 493.6,474.9 C489.0,472.8 489.8,474.5 488.0,470.0 C486.2,465.5 486.8,466.5 488.2,461.3Z" fill="none" stroke="#f08020" stroke-width="1.0" stroke-dasharray="2.6 1.6"/>
<path d="M483.4,414.0 C485.8,414.5 486.7,413.4 487.7,418.3 C488.7,423.2 489.2,422.7 486.3,428.6 C483.4,434.5 484.4,429.1 479.0,435.9 C473.6,442.7 476.0,441.7 470.2,449.0 C464.4,456.3 466.8,453.8 461.5,457.7 C456.2,461.6 457.4,461.2 454.2,460.7 C451.0,460.2 451.0,460.7 452.0,456.3 C453.0,451.9 452.0,451.9 457.1,447.5 C462.2,443.1 461.9,447.1 467.3,443.2 C472.7,439.3 469.8,441.3 473.2,435.9 C476.6,430.5 475.1,433.4 477.5,427.1 C479.9,420.8 478.5,421.3 480.5,416.9 C482.5,412.5 481.0,413.5 483.4,414.0Z" fill="none" stroke="#8a8a8a" stroke-width="1.0"/>
<path d="M446.2,426.4 C448.4,424.2 447.6,423.9 452.7,419.8 C457.8,415.7 459.4,412.6 461.5,414.0 C463.6,415.4 461.0,418.2 459.0,424.0 C457.0,429.8 454.8,428.0 455.6,431.5 C456.4,435.0 459.3,430.5 461.5,434.4 C463.7,438.3 463.4,437.3 462.2,443.2 C461.0,449.1 459.4,449.1 458.0,452.0" fill="none" stroke="#8a8a8a" stroke-width="1.0"/>
<path d="M456.5,371.5 C454.1,373.6 452.6,372.7 449.2,377.7 C445.8,382.7 446.8,380.2 446.3,386.5 C445.8,392.8 445.8,391.9 447.7,396.7 C449.6,401.5 450.6,399.6 452.0,401.0" fill="none" stroke="#8a8a8a" stroke-width="1.0"/>
<path d="M462.0,375.3 C464.7,377.5 464.4,376.8 470.0,381.9 C475.6,387.0 473.9,384.6 478.8,390.6 C483.7,396.6 480.2,392.9 484.6,400.0 C489.0,407.1 486.9,403.7 492.0,412.0 C497.1,420.3 497.3,420.7 500.0,425.0" fill="none" stroke="#8a8a8a" stroke-width="1.0"/>
<path d="M397.2,376.9l3.2,3.2M397.2,380.1l3.2,-3.2M351.4,495.1l3.2,3.2M351.4,498.3l3.2,-3.2M366.4,493.7l3.2,3.2M366.4,496.9l3.2,-3.2M354.9,478.2l3.2,3.2M354.9,481.4l3.2,-3.2M355.4,478.7l3.2,3.2M355.4,481.9l3.2,-3.2M373.8,477.8l3.2,3.2M373.8,481.0l3.2,-3.2M376.7,471.4l3.2,3.2M376.7,474.6l3.2,-3.2M379.6,470.4l3.2,3.2M379.6,473.6l3.2,-3.2M378.7,461.6l3.2,3.2M378.7,464.8l3.2,-3.2M380.6,451.3l3.2,3.2M380.6,454.5l3.2,-3.2M415.0,400.7l3.2,3.2M415.0,403.9l3.2,-3.2M426.4,407.5l3.2,3.2M426.4,410.7l3.2,-3.2M426.9,408.0l3.2,3.2M426.9,411.2l3.2,-3.2M431.7,414.4l3.2,3.2M431.7,417.6l3.2,-3.2M414.0,422.3l3.2,3.2M414.0,425.5l3.2,-3.2M414.5,422.8l3.2,3.2M414.5,426.0l3.2,-3.2M415.9,425.6l3.2,3.2M415.9,428.8l3.2,-3.2M392.8,434.8l3.2,3.2M392.8,438.0l3.2,-3.2M388.7,446.6l3.2,3.2M388.7,449.8l3.2,-3.2M415.7,425.2l3.2,3.2M415.7,428.4l3.2,-3.2M381.0,451.1l3.2,3.2M381.0,454.3l3.2,-3.2M393.8,451.9l3.2,3.2M393.8,455.1l3.2,-3.2M386.2,458.4l3.2,3.2M386.2,461.6l3.2,-3.2M397.5,461.6l3.2,3.2M397.5,464.8l3.2,-3.2M398.0,462.1l3.2,3.2M398.0,465.3l3.2,-3.2M397.5,465.0l3.2,3.2M397.5,468.2l3.2,-3.2M380.0,470.1l3.2,3.2M380.0,473.3l3.2,-3.2M374.6,478.1l3.2,3.2M374.6,481.3l3.2,-3.2M415.4,453.6l3.2,3.2M415.4,456.8l3.2,-3.2M423.5,453.3l3.2,3.2M423.5,456.5l3.2,-3.2M411.3,458.4l3.2,3.2M411.3,461.6l3.2,-3.2M411.8,458.9l3.2,3.2M411.8,462.1l3.2,-3.2M411.6,462.1l3.2,3.2M411.6,465.3l3.2,-3.2M408.4,464.6l3.2,3.2M408.4,467.8l3.2,-3.2M408.9,465.1l3.2,3.2M408.9,468.3l3.2,-3.2M428.9,459.4l3.2,3.2M428.9,462.6l3.2,-3.2M443.4,462.8l3.2,3.2M443.4,466.0l3.2,-3.2M449.3,478.8l3.2,3.2M449.3,482.0l3.2,-3.2M449.8,479.3l3.2,3.2M449.8,482.5l3.2,-3.2M450.1,386.0l3.2,3.2M450.1,389.2l3.2,-3.2M466.6,389.7l3.2,3.2M466.6,392.9l3.2,-3.2M467.1,390.2l3.2,3.2M467.1,393.4l3.2,-3.2M458.1,398.0l3.2,3.2M458.1,401.2l3.2,-3.2M464.8,403.1l3.2,3.2M464.8,406.3l3.2,-3.2M468.7,415.5l3.2,3.2M468.7,418.7l3.2,-3.2M468.9,415.6l3.2,3.2M468.9,418.8l3.2,-3.2M470.1,425.5l3.2,3.2M470.1,428.7l3.2,-3.2M470.6,426.0l3.2,3.2M470.6,429.2l3.2,-3.2M473.3,431.0l3.2,3.2M473.3,434.2l3.2,-3.2M473.8,431.5l3.2,3.2M473.8,434.7l3.2,-3.2M511.8,449.5l3.2,3.2M511.8,452.7l3.2,-3.2M512.3,450.0l3.2,3.2M512.3,453.2l3.2,-3.2M514.5,455.6l3.2,3.2M514.5,458.8l3.2,-3.2M515.0,456.1l3.2,3.2M515.0,459.3l3.2,-3.2M502.6,452.9l3.2,3.2M502.6,456.1l3.2,-3.2M497.5,461.1l3.2,3.2M497.5,464.3l3.2,-3.2M505.0,465.9l3.2,3.2M505.0,469.1l3.2,-3.2M506.3,468.6l3.2,3.2M506.3,471.8l3.2,-3.2M509.7,468.6l3.2,3.2M509.7,471.8l3.2,-3.2M512.4,472.0l3.2,3.2M512.4,475.2l3.2,-3.2M458.0,398.1l3.2,3.2M458.0,401.3l3.2,-3.2M465.3,403.3l3.2,3.2M465.3,406.5l3.2,-3.2" fill="none" stroke="#000" stroke-width="1.0"/>
<text x="135.6" y="13.9" font-size="13" text-anchor="middle">Grs</text>
<text x="414.2" y="13.9" font-size="13" text-anchor="middle">Grs</text>
<text x="6.5" y="256.4" font-size="13" text-anchor="start">Alm</text>
<text x="248.2" y="256.5" font-size="13" text-anchor="start">Prp</text>
<text x="283.7" y="256.4" font-size="13" text-anchor="start">Alm</text>
<text x="523.8" y="256.5" font-size="13" text-anchor="start">Sps</text>
<text x="136.8" y="266.5" font-size="13" text-anchor="middle">Prp</text>
<text x="413.5" y="266.8" font-size="13" text-anchor="middle">Grs</text>
<text x="6.2" y="508.3" font-size="13" text-anchor="start">Alm</text>
<text x="246.0" y="507.8" font-size="13" text-anchor="start">Sps</text>
<text x="283.3" y="507.8" font-size="13" text-anchor="start">Sps</text>
<text x="525.8" y="507.9" font-size="13" text-anchor="start">Prp</text>
<text x="13.5" y="16.2" font-size="17.5" text-anchor="start">a</text>
<text x="530.2" y="19.6" font-size="17" text-anchor="start">b</text>
<text x="12.3" y="284.3" font-size="17.5" text-anchor="start">c</text>
<text x="530.0" y="287.4" font-size="17" text-anchor="start">d</text>
<text x="215.5" y="10.2" font-size="10.6" text-anchor="start">Rača Unit:</text>
<text x="234.2" y="26.6" font-size="10.6" text-anchor="start">Chvalčov, this work</text>
<text x="234.2" y="38.7" font-size="10.6" text-anchor="start">Hostýn Mb., Soláň Fm.,</text>
<text x="215.5" y="58.5" font-size="10.6" text-anchor="start">Silesian Unit:</text>
<text x="231.3" y="77.6" font-size="10.6" text-anchor="start">Krosno Fm.,</text>
<text x="231.3" y="89.0" font-size="10.6" text-anchor="start">Oligocene-Miocene</text>
<text x="215.5" y="107.8" font-size="10.6" text-anchor="start">Ždánice Unit:</text>
<text x="231.8" y="126.5" font-size="10.6" text-anchor="start">Ždánice-Hustopeče Fm.,</text>
<text x="231.8" y="137.8" font-size="10.6" text-anchor="start">Oligocene-Miocene</text>
<text x="221.7" y="273.3" font-size="10.6" text-anchor="start">Rača Unit:</text>
<text x="238.7" y="289.0" font-size="10.6" text-anchor="start">Gault-flysch+Kaumberg Fm.,</text>
<text x="238.7" y="301.1" font-size="10.6" text-anchor="start">Cretaceous</text>
<text x="238.7" y="315.0" font-size="10.6" text-anchor="start">Ráztoka Mb., Soláň Fm.,</text>
<text x="238.7" y="326.5" font-size="10.6" text-anchor="start">Maastrichtian-Paleocene</text>
<text x="237.5" y="342.0" font-size="10.6" text-anchor="start">Hostýn Mb., Soláň Fm.,</text>
<text x="237.5" y="353.6" font-size="10.6" text-anchor="start">Paleocene</text>
<text x="237.5" y="368.3" font-size="10.6" text-anchor="start">Beloveža Fm.,</text>
<text x="237.5" y="379.9" font-size="10.6" text-anchor="start">Paleocene-Eocene</text>
<text x="236.3" y="395.2" font-size="10.6" text-anchor="start">Rusava Mb., Zlín Fm.,</text>
<text x="236.3" y="407.6" font-size="10.6" text-anchor="start">Eocene</text>
</svg>
</body></html>
